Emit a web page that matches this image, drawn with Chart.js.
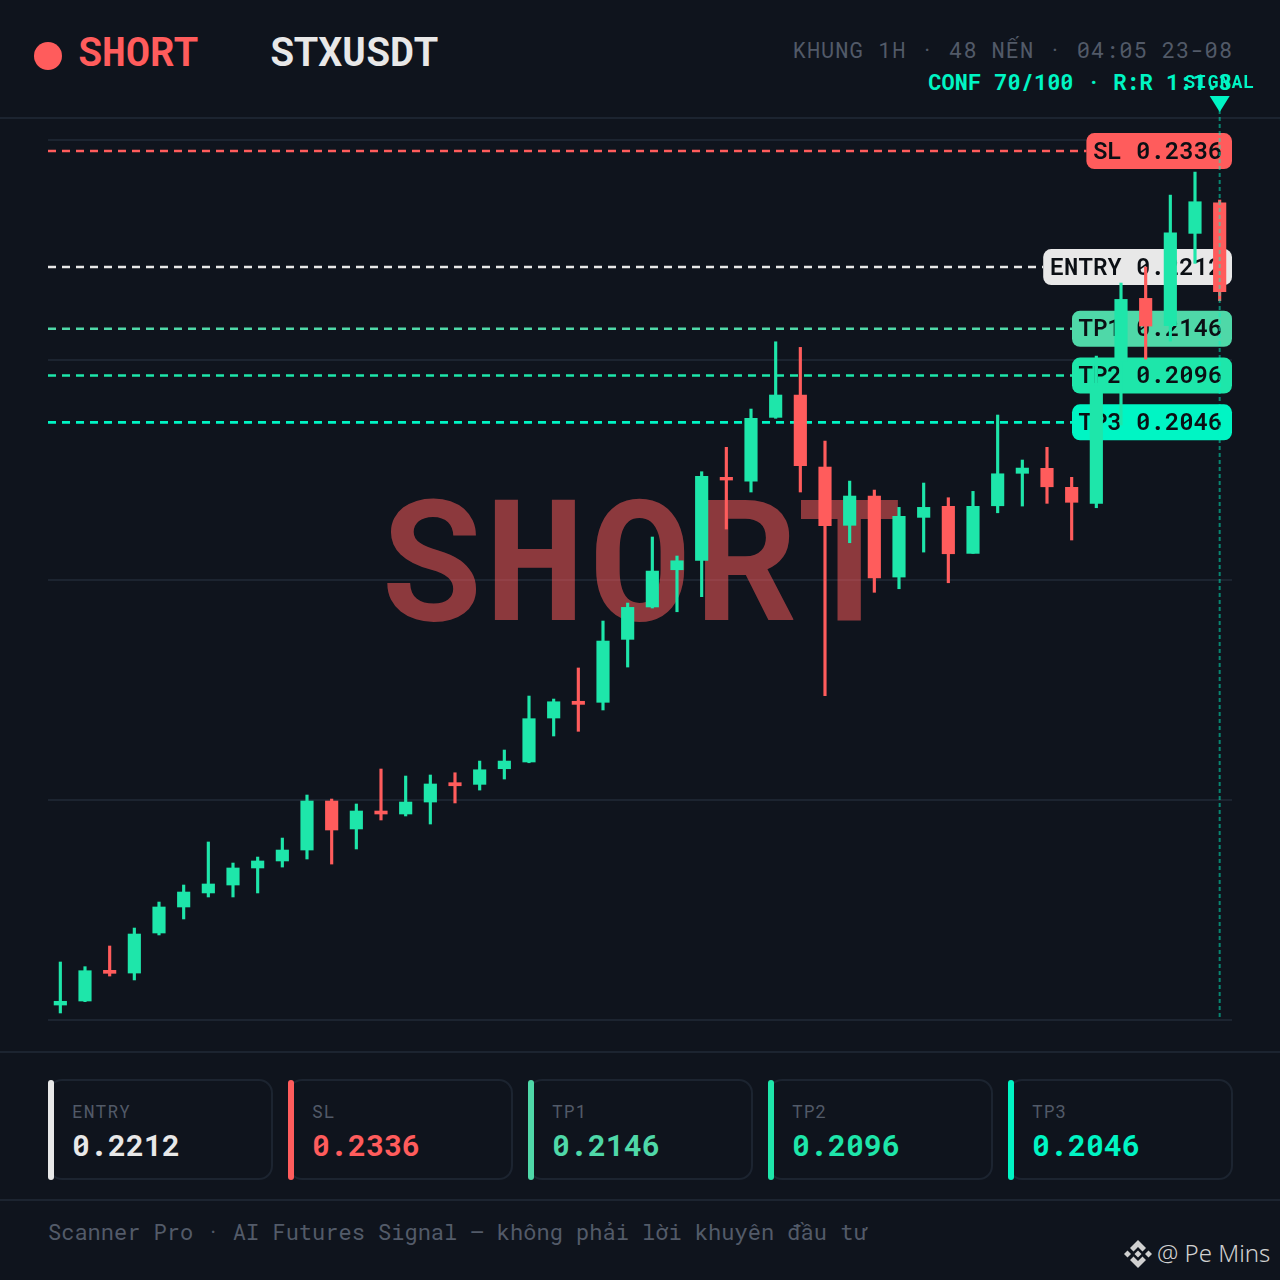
<!DOCTYPE html>
<html>
<head>
<meta charset="utf-8">
<title>STXUSDT SHORT</title>
<style>
html, body { margin: 0; padding: 0; background: #0f141d; }
#page { position: relative; width: 1280px; height: 1280px; overflow: hidden; font-family: "Roboto Mono", "DejaVu Sans Mono", monospace; }
#page div, #page span { position: absolute; white-space: pre; }
.rule { left: 0; width: 1280px; height: 2px; background: #1c2430; }
.dot { left: 34px; top: 42px; width: 28px; height: 28px; border-radius: 50%; background: #ff5c5c; }
.big { top: 24px; font-size: 40px; line-height: 53px; font-weight: 700; }
.meta { right: 47px; top: 35px; font-size: 22px; line-height: 30px; letter-spacing: 1px; color: #525a68; }
.conf { right: 48px; top: 67px; font-size: 22px; line-height: 30px; font-weight: 700; color: #00f5c4; }
.card { top: 1079px; width: 221px; height: 97px; border: 2px solid #1c2430; border-radius: 14px; }
.bar { top: 1080px; width: 6px; height: 100px; border-radius: 3px; }
.cardName { top: 1099px; font-size: 18px; line-height: 24px; letter-spacing: 1px; color: #525a68; }
.cardValue { top: 1125px; font-size: 30px; line-height: 40px; font-weight: 700; }
.foot { left: 48px; top: 1217px; font-size: 22px; line-height: 30px; color: #535b69; }
.credit { left: 1157px; top: 1235px; font-family: "Noto Sans", sans-serif; font-size: 24px; line-height: 36px; font-weight: 300; color: #d0d0d0; }
#logo { position: absolute; left: 1124px; top: 1240px; }
canvas { position: absolute; left: 0; top: 0; }
</style>
</head>
<body>
<div id="page">
    <div class="rule" style="top:117px"></div>
    <div class="rule" style="top:1051px"></div>
    <div class="rule" style="top:1199px"></div>

    <div class="dot"></div>
    <div class="big" style="left:78px;color:#ff5c5c">SHORT</div>
    <div class="big" style="left:270px;color:#e8e8e8">STXUSDT</div>
    <div class="meta">KHUNG 1H · 48 NẾN · 04:05 23-08</div>
    <div class="conf">CONF 70/100 · R:R 1:1.3</div>

    <div id="cards"></div>

    <div class="foot">Scanner Pro · AI Futures Signal — không phải lời khuyên đầu tư</div>
    <svg id="logo" width="28" height="28" viewBox="0 0 28 28" fill="#d0d0d0">
        <path d="M14 0l8 8-3.5 3.5L14 7l-4.5 4.5L6 8z"/>
        <path d="M14 28l8-8-3.5-3.5L14 21l-4.5-4.5L6 20z"/>
        <path d="M3.5 10.5L7 14l-3.5 3.5L0 14z"/>
        <path d="M24.5 10.5L28 14l-3.5 3.5L21 14z"/>
        <path d="M14 10.5L17.5 14 14 17.5 10.5 14z"/>
    </svg>
    <div class="credit">@ Pe Mins</div>

    <canvas id="chart" width="1280" height="1280"></canvas>
</div>

<script src="https://cdn.jsdelivr.net/npm/chart.js@4"></script>
<script>
const opens = [
    0.14231, 0.14274, 0.14602, 0.14573, 0.15001, 0.15279, 0.15429, 0.15514,
    0.15696, 0.15771, 0.15888, 0.16412, 0.16113, 0.16305, 0.16273, 0.16401,
    0.16608, 0.16590, 0.16757, 0.16829, 0.17299, 0.17478, 0.17467, 0.18140,
    0.18486, 0.18884, 0.18985, 0.19872, 0.19832, 0.20513, 0.20752, 0.19982,
    0.19359, 0.19672, 0.18806, 0.19444, 0.19562, 0.19059, 0.19568, 0.19915,
    0.19968, 0.19765, 0.19594, 0.21115, 0.21785, 0.21492, 0.22480, 0.22807
];
const closes = [
    0.14271, 0.14598, 0.14570, 0.14990, 0.15279, 0.15439, 0.15525, 0.15696,
    0.15771, 0.15888, 0.16412, 0.16102, 0.16305, 0.16273, 0.16401, 0.16594,
    0.16575, 0.16746, 0.16839, 0.17292, 0.17473, 0.17445, 0.18122, 0.18482,
    0.18870, 0.18980, 0.19883, 0.19843, 0.20503, 0.20752, 0.19996, 0.19355,
    0.19672, 0.18796, 0.19455, 0.19551, 0.19055, 0.19562, 0.19910, 0.19971,
    0.19771, 0.19605, 0.20848, 0.21774, 0.21489, 0.22486, 0.22818, 0.21856
];
const highs = [
    0.14691, 0.14641, 0.14862, 0.15054, 0.15332, 0.15514, 0.15974, 0.15749,
    0.15813, 0.16016, 0.16476, 0.16433, 0.16380, 0.16754, 0.16679, 0.16690,
    0.16714, 0.16839, 0.16957, 0.17534, 0.17502, 0.17834, 0.18336, 0.18528,
    0.19234, 0.19031, 0.19932, 0.20193, 0.20602, 0.21321, 0.21261, 0.20260,
    0.19832, 0.19736, 0.19551, 0.19811, 0.19654, 0.19722, 0.20538, 0.20057,
    0.20193, 0.19872, 0.21168, 0.21949, 0.22120, 0.22889, 0.23135, 0.22836
];
const lows = [
    0.14146, 0.14267, 0.14541, 0.14499, 0.14980, 0.15151, 0.15386, 0.15386,
    0.15429, 0.15706, 0.15792, 0.15738, 0.15899, 0.16209, 0.16252, 0.16166,
    0.16391, 0.16529, 0.16647, 0.16821, 0.17107, 0.17157, 0.17385, 0.17844,
    0.18475, 0.18435, 0.18596, 0.19319, 0.19715, 0.20503, 0.19715, 0.17537,
    0.19173, 0.18643, 0.18681, 0.19073, 0.18745, 0.19059, 0.19493, 0.19565,
    0.19594, 0.19202, 0.19547, 0.20431, 0.21136, 0.21329, 0.22159, 0.21760
];
const candleLabels = opens.map((_, i) => i + 1);

const levelNames = ["ENTRY", "SL", "TP1", "TP2", "TP3"];
const levelValues = [0.2212, 0.2336, 0.2146, 0.2096, 0.2046];
const levelColors = ["#e8e8e8", "#ff5c5c", "#4fd8a8", "#1ee6aa", "#00f5c4"];

const UP = "#1ee6aa";
const DOWN = "#ff5c5c";
const axisMin = 0.14071;
const axisMax = 0.23478;

// cards under the chart
const cards = document.getElementById("cards");
levelNames.forEach(function (name, i) {
    const x = 48 + i * 240;
    cards.innerHTML +=
        '<div class="card" style="left:' + x + 'px"></div>' +
        '<div class="bar" style="left:' + x + 'px;background:' + levelColors[i] + '"></div>' +
        '<div class="cardName" style="left:' + (x + 24) + 'px">' + name + '</div>' +
        '<div class="cardValue" style="left:' + (x + 24) + 'px;color:' + levelColors[i] + '">' + levelValues[i].toFixed(4) + '</div>';
});

function roundedBox(ctx, x, y, w, h, r) {
    ctx.beginPath();
    ctx.roundRect(x, y, w, h, r);
    ctx.fill();
}

// watermark, dashed levels and their price tags go behind the candles
const behindCandles = {
    id: "behindCandles",
    beforeDatasetsDraw(chart) {
        const ctx = chart.ctx;
        const area = chart.chartArea;
        const y = chart.scales.y;

        ctx.save();
        ctx.font = '700 169px "Roboto Mono"';
        ctx.letterSpacing = "3.3px";
        ctx.fillStyle = "rgba(255, 92, 92, 0.52)";
        ctx.textAlign = "left";
        ctx.textBaseline = "alphabetic";
        ctx.fillText("SHORT", 380, 620);
        ctx.restore();

        levelNames.forEach(function (name, i) {
            const py = y.getPixelForValue(levelValues[i]);
            const text = name + " " + levelValues[i].toFixed(4);
            const boxW = text.length * 14.4 + 16;
            const boxX = area.right - boxW;

            ctx.save();
            ctx.strokeStyle = levelColors[i];
            ctx.lineWidth = 2.6;
            ctx.setLineDash([8, 6]);
            ctx.beginPath();
            ctx.moveTo(area.left, py);
            ctx.lineTo(boxX, py);
            ctx.stroke();
            ctx.setLineDash([]);

            ctx.fillStyle = levelColors[i];
            roundedBox(ctx, boxX, py - 18, boxW, 36, 8);

            ctx.fillStyle = "#0b0f14";
            ctx.font = '600 24px "Roboto Mono"';
            ctx.textAlign = "left";
            ctx.textBaseline = "alphabetic";
            ctx.fillText(text, boxX + 6.5, py + 7.5);
            ctx.restore();
        });
    }
};

// dotted marker on the last candle, over everything else
const signalMarker = {
    id: "signalMarker",
    afterDatasetsDraw(chart) {
        const ctx = chart.ctx;
        const x = chart.scales.x.getPixelForValue(candleLabels.length - 1);
        const bottom = chart.chartArea.bottom;

        ctx.save();
        ctx.strokeStyle = "rgba(0, 245, 196, 0.5)";
        ctx.lineWidth = 2;
        ctx.setLineDash([4, 3]);
        ctx.beginPath();
        ctx.moveTo(x, 110);
        ctx.lineTo(x, bottom);
        ctx.stroke();
        ctx.setLineDash([]);

        ctx.fillStyle = "#00f5c4";
        ctx.beginPath();
        ctx.moveTo(x - 10, 96);
        ctx.lineTo(x + 10, 96);
        ctx.lineTo(x, 112);
        ctx.closePath();
        ctx.fill();

        ctx.font = '700 18px "Roboto Mono"';
        ctx.letterSpacing = "1px";
        ctx.textAlign = "center";
        ctx.textBaseline = "alphabetic";
        ctx.fillText("SIGNAL", x, 88);
        ctx.restore();
    }
};

const candleColors = opens.map((o, i) => (closes[i] >= o ? UP : DOWN));

Chart.defaults.font.family = '"Roboto Mono", monospace';

document.fonts.load('700 169px "Roboto Mono"').then(function () {
    return document.fonts.load('600 24px "Roboto Mono"');
}).finally(function () {

    new Chart(document.getElementById("chart"), {

        type: "bar",

        data: {

            labels: candleLabels,

            datasets: [
                {
                    label: "Body",
                    data: opens.map((o, i) => [o, closes[i]]),
                    backgroundColor: candleColors,
                    barThickness: 12.5,
                    grouped: false,
                    order: 1
                },
                {
                    label: "Wick",
                    data: lows.map((l, i) => [l, highs[i]]),
                    backgroundColor: candleColors,
                    barThickness: 2.5,
                    grouped: false,
                    order: 2
                }
            ]

        },

        options: {

            responsive: false,
            animation: false,
            devicePixelRatio: 1,

            layout: {
                padding: { left: 48, right: 48, top: 140, bottom: 260 }
            },

            scales: {
                x: {
                    display: false,
                    offset: true
                },
                y: {
                    min: axisMin,
                    max: axisMax,
                    border: { display: false },
                    grid: {
                        color: "#1c2430",
                        lineWidth: 2,
                        drawTicks: false,
                        tickLength: 0
                    },
                    ticks: {
                        display: false,
                        stepSize: (axisMax - axisMin) / 4
                    }
                }
            },

            plugins: {
                legend: { display: false },
                tooltip: { enabled: false }
            }

        },

        plugins: [behindCandles, signalMarker]

    });

});
</script>
</body>
</html>
